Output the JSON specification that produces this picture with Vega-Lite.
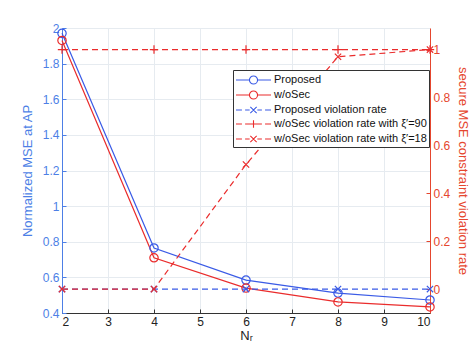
{
  "$schema": "https://vega.github.io/schema/vega-lite/v6.json",
  "autosize": "none",
  "width": 368,
  "height": 285,
  "padding": {"left": 62, "top": 28, "right": 44, "bottom": 42},
  "background": "white",
  "config": {
    "font": "Liberation Sans",
    "view": {"stroke": null},
    "axis": {"labelFontSize": 12, "titleFontSize": 13, "titleFontWeight": "normal", "gridColor": "#e6ebf0", "gridOpacity": 1, "tickSize": -4, "labelPadding": 7}
  },
  "datasets": {
    "mse": [
      {"x": 2, "series": "Proposed", "v": 1.97},
      {"x": 4, "series": "Proposed", "v": 0.765},
      {"x": 6, "series": "Proposed", "v": 0.585},
      {"x": 8, "series": "Proposed", "v": 0.512},
      {"x": 10, "series": "Proposed", "v": 0.473},
      {"x": 2, "series": "w/oSec", "v": 1.93},
      {"x": 4, "series": "w/oSec", "v": 0.71},
      {"x": 6, "series": "w/oSec", "v": 0.54},
      {"x": 8, "series": "w/oSec", "v": 0.462},
      {"x": 10, "series": "w/oSec", "v": 0.434}
    ],
    "rate": [
      {"x": 2, "series": "Proposed violation rate", "v": 0},
      {"x": 4, "series": "Proposed violation rate", "v": 0},
      {"x": 6, "series": "Proposed violation rate", "v": 0},
      {"x": 8, "series": "Proposed violation rate", "v": 0},
      {"x": 10, "series": "Proposed violation rate", "v": 0},
      {"x": 2, "series": "w/oSec violation rate with ξ′=90", "v": 1},
      {"x": 4, "series": "w/oSec violation rate with ξ′=90", "v": 1},
      {"x": 6, "series": "w/oSec violation rate with ξ′=90", "v": 1},
      {"x": 8, "series": "w/oSec violation rate with ξ′=90", "v": 1},
      {"x": 10, "series": "w/oSec violation rate with ξ′=90", "v": 1},
      {"x": 2, "series": "w/oSec violation rate with ξ′=18", "v": 0},
      {"x": 4, "series": "w/oSec violation rate with ξ′=18", "v": 0},
      {"x": 6, "series": "w/oSec violation rate with ξ′=18", "v": 0.52},
      {"x": 8, "series": "w/oSec violation rate with ξ′=18", "v": 0.97},
      {"x": 10, "series": "w/oSec violation rate with ξ′=18", "v": 1}
    ]
  },
  "encoding": {
    "x": {
      "field": "x", "type": "quantitative",
      "scale": {"domain": [2, 10], "nice": false},
      "axis": {"values": [2,3,4,5,6,7,8,9,10], "title": "Nᵣ", "domainColor": "#333", "tickColor": "#333", "labelColor": "#222", "titleColor": "#222", "titlePadding": 2, "grid": true}
    },
    "color": {"field": "series", "type": "nominal"}
  },
  "layer": [
    {
      "data": {"name": "mse"},
      "encoding": {
        "y": {
          "field": "v", "type": "quantitative",
          "scale": {"domain": [0.4, 2], "nice": false, "zero": false},
          "axis": {"values": [0.4,0.6,0.8,1,1.2,1.4,1.6,1.8,2], "format": "~g", "title": "Normalized MSE at AP", "domainColor": "#4d7fe6", "tickColor": "#4d7fe6", "labelColor": "#4d7fe6", "titleColor": "#4d7fe6", "grid": true, "titlePadding": 8}
        }
      },
      "layer": [
        {"mark": {"type": "line", "strokeWidth": 1.2}},
        {"mark": {"type": "point", "shape": "circle", "filled": false, "size": 70, "strokeWidth": 1.2, "opacity": 1}},
        {
          "transform": [{"filter": "datum.x > 100"}],
          "mark": {"type": "point", "filled": false, "strokeWidth": 1.2, "opacity": 1},
          "encoding": {
            "color": {
              "field": "series", "type": "nominal",
              "scale": {
                "domain": ["Proposed", "w/oSec", "Proposed violation rate", "w/oSec violation rate with ξ′=90", "w/oSec violation rate with ξ′=18"],
                "range": ["#3a5be6", "#ea2c2c", "#3a5be6", "#ea2c2c", "#ea2c2c"]
              },
              "legend": {
                "title": null, "orient": "none", "legendX": 171, "legendY": 42,
                "strokeColor": "#333", "fillColor": "white", "padding": 2,
                "labelFontSize": 11, "labelColor": "#111", "symbolSize": 196, "symbolStrokeWidth": 1.1,
                "rowPadding": 0, "labelOffset": 23, "symbolOpacity": 1
              }
            },
            "shape": {
              "field": "series", "type": "nominal",
              "scale": {
                "domain": ["Proposed", "w/oSec", "Proposed violation rate", "w/oSec violation rate with ξ′=90", "w/oSec violation rate with ξ′=18"],
                "range": [
                  "M-1,0L0.92,0M2.08,0L4,0M0.92,0A0.58,0.58 0 1,0 2.08,0A0.58,0.58 0 1,0 0.92,0",
                  "M-1,0L0.92,0M2.08,0L4,0M0.92,0A0.58,0.58 0 1,0 2.08,0A0.58,0.58 0 1,0 0.92,0",
                  "M-1,0L-0.15,0M0.3,0L0.95,0M2.05,0L2.7,0M3.15,0L4,0M1.05,-0.45L1.95,0.45M1.05,0.45L1.95,-0.45",
                  "M-1,0L-0.15,0M0.3,0L0.95,0M2.05,0L2.7,0M3.15,0L4,0M0.95,0L2.05,0M1.5,-0.55L1.5,0.55",
                  "M-1,0L-0.15,0M0.3,0L0.95,0M2.05,0L2.7,0M3.15,0L4,0M1.05,-0.45L1.95,0.45M1.05,0.45L1.95,-0.45"
                ]
              },
              "legend": {
                "title": null, "orient": "none", "legendX": 171, "legendY": 42,
                "strokeColor": "#333", "fillColor": "white", "padding": 2,
                "labelFontSize": 11, "labelColor": "#111", "symbolSize": 196, "symbolStrokeWidth": 1.1,
                "rowPadding": 0, "labelOffset": 23, "symbolOpacity": 1
              }
            }
          }
        }
      ]
    },
    {
      "data": {"name": "rate"},
      "encoding": {
        "y": {
          "field": "v", "type": "quantitative",
          "scale": {"domain": [-0.1, 1.09], "nice": false, "zero": false},
          "axis": {"orient": "right", "values": [0,0.2,0.4,0.6,0.8,1], "format": "~g", "title": "secure MSE constraint violation rate", "domainColor": "#e5462e", "tickColor": "#e5462e", "labelColor": "#e5462e", "titleColor": "#e5462e", "grid": false, "titlePadding": 6}
        }
      },
      "layer": [
        {"mark": {"type": "line", "strokeWidth": 1.2, "strokeDash": [6, 4]}},
        {
          "transform": [{"filter": "datum.series != 'w/oSec violation rate with ξ′=90'"}],
          "mark": {"type": "point", "shape": "M-1,-1L1,1M-1,1L1,-1", "filled": false, "size": 40, "strokeWidth": 1.2, "opacity": 1}
        },
        {
          "transform": [{"filter": "datum.series == 'w/oSec violation rate with ξ′=90'"}],
          "mark": {"type": "point", "shape": "M-1,0L1,0M0,-1L0,1", "filled": false, "size": 70, "strokeWidth": 1.2, "opacity": 1}
        }
      ]
    }
  ],
  "resolve": {"scale": {"y": "independent"}}
}
